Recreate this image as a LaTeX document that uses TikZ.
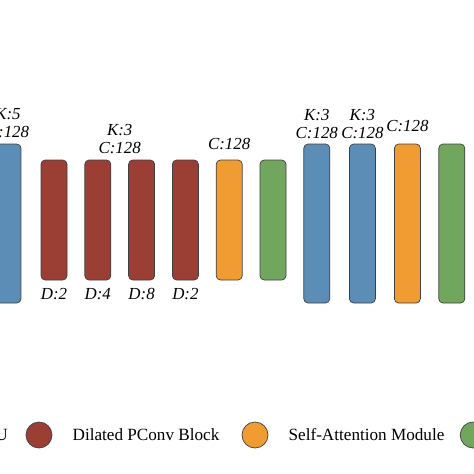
\documentclass[tikz,border=0pt]{standalone}
\usepackage{fontspec}
\setmainfont{Liberation Serif}
\usepackage{tikz}
\usetikzlibrary{positioning,calc,arrows.meta}
\definecolor{convblue}{RGB}{92,141,182}
\definecolor{dilred}{RGB}{155,62,52}
\definecolor{attorange}{RGB}{240,156,50}
\definecolor{upgreen}{RGB}{112,166,94}

\begin{document}
\begin{tikzpicture}[>=Stealth,node distance=0.445cm]
\tikzstyle{B}=[draw=black!75,line width=0.5pt,rounded corners=3pt,minimum width=0.65cm,inner sep=0pt,outer sep=0pt]
\tikzstyle{S}=[B,minimum height=3cm]
\tikzstyle{L}=[B,minimum height=3.975cm]
\tikzstyle{T}=[font=\fontsize{12}{12.8}\selectfont\itshape,align=center,inner sep=0pt]
\tikzstyle{G}=[draw=black!75,line width=0.5pt,circle,minimum size=0.65cm,inner sep=0pt]
\tikzstyle{N}=[font=\fontsize{12.2}{14}\selectfont,inner sep=0pt]
\useasboundingbox (0,0) rectangle (11.85,-11.85);
% blocks
\node[L,fill=convblue] (b1) at (0.2,-5.5875) {};
\node[S,fill=dilred] (r1) at (1.35,-5.5) {};
\node[S,fill=dilred,right=of r1] (r2) {};
\node[S,fill=dilred,right=of r2] (r3) {};
\node[S,fill=dilred,right=of r3] (r4) {};
\node[S,fill=attorange,right=of r4] (a1) {};
\node[S,fill=upgreen,right=of a1] (g1) {};
\node[L,fill=convblue,right=of g1,yshift=-0.0875cm] (b2) {};
\node[L,fill=convblue,right=0.49cm of b2] (b3) {};
\node[L,fill=attorange,right=0.475cm of b3] (a2) {};
\node[L,fill=upgreen,right=0.46cm of a2] (g2) {};
% labels
\node[T,above=0.15cm of b1] (b1t) {K:5\\C:128};
\node[T,above=0.15cm of $(r2.north)!0.5!(r3.north)$] (rt) {K:3\\C:128};
\node[T,above=0.25cm of a1] (a1t) {C:128};
\node[T,above=0.12cm of b2] (b2t) {K:3\\C:128};
\node[T,above=0.12cm of b3] (b3t) {K:3\\C:128};
\node[T,above=0.3cm of a2] (a2t) {C:128};
\node[T,below=0.2cm of r1] (d1) {D:2};
\node[T,below=0.2cm of r2] (d2) {D:4};
\node[T,below=0.2cm of r3] (d3) {D:8};
\node[T,below=0.2cm of r4] (d4) {D:2};
% legend
\node[N,anchor=east] (k1) at (0.2,-10.875) {ReLU};
\node[G,fill=dilred] (k2) at (0.975,-10.875) {};
\node[N,right=0.5cm of k2] (k2t) {Dilated PConv Block};
\node[G,fill=attorange] (k3) at (6.375,-10.875) {};
\node[N,right=0.5cm of k3] (k3t) {Self-Attention Module};
\node[G,fill=upgreen] (k4) at (11.83,-10.875) {};
\end{tikzpicture}
\end{document}
